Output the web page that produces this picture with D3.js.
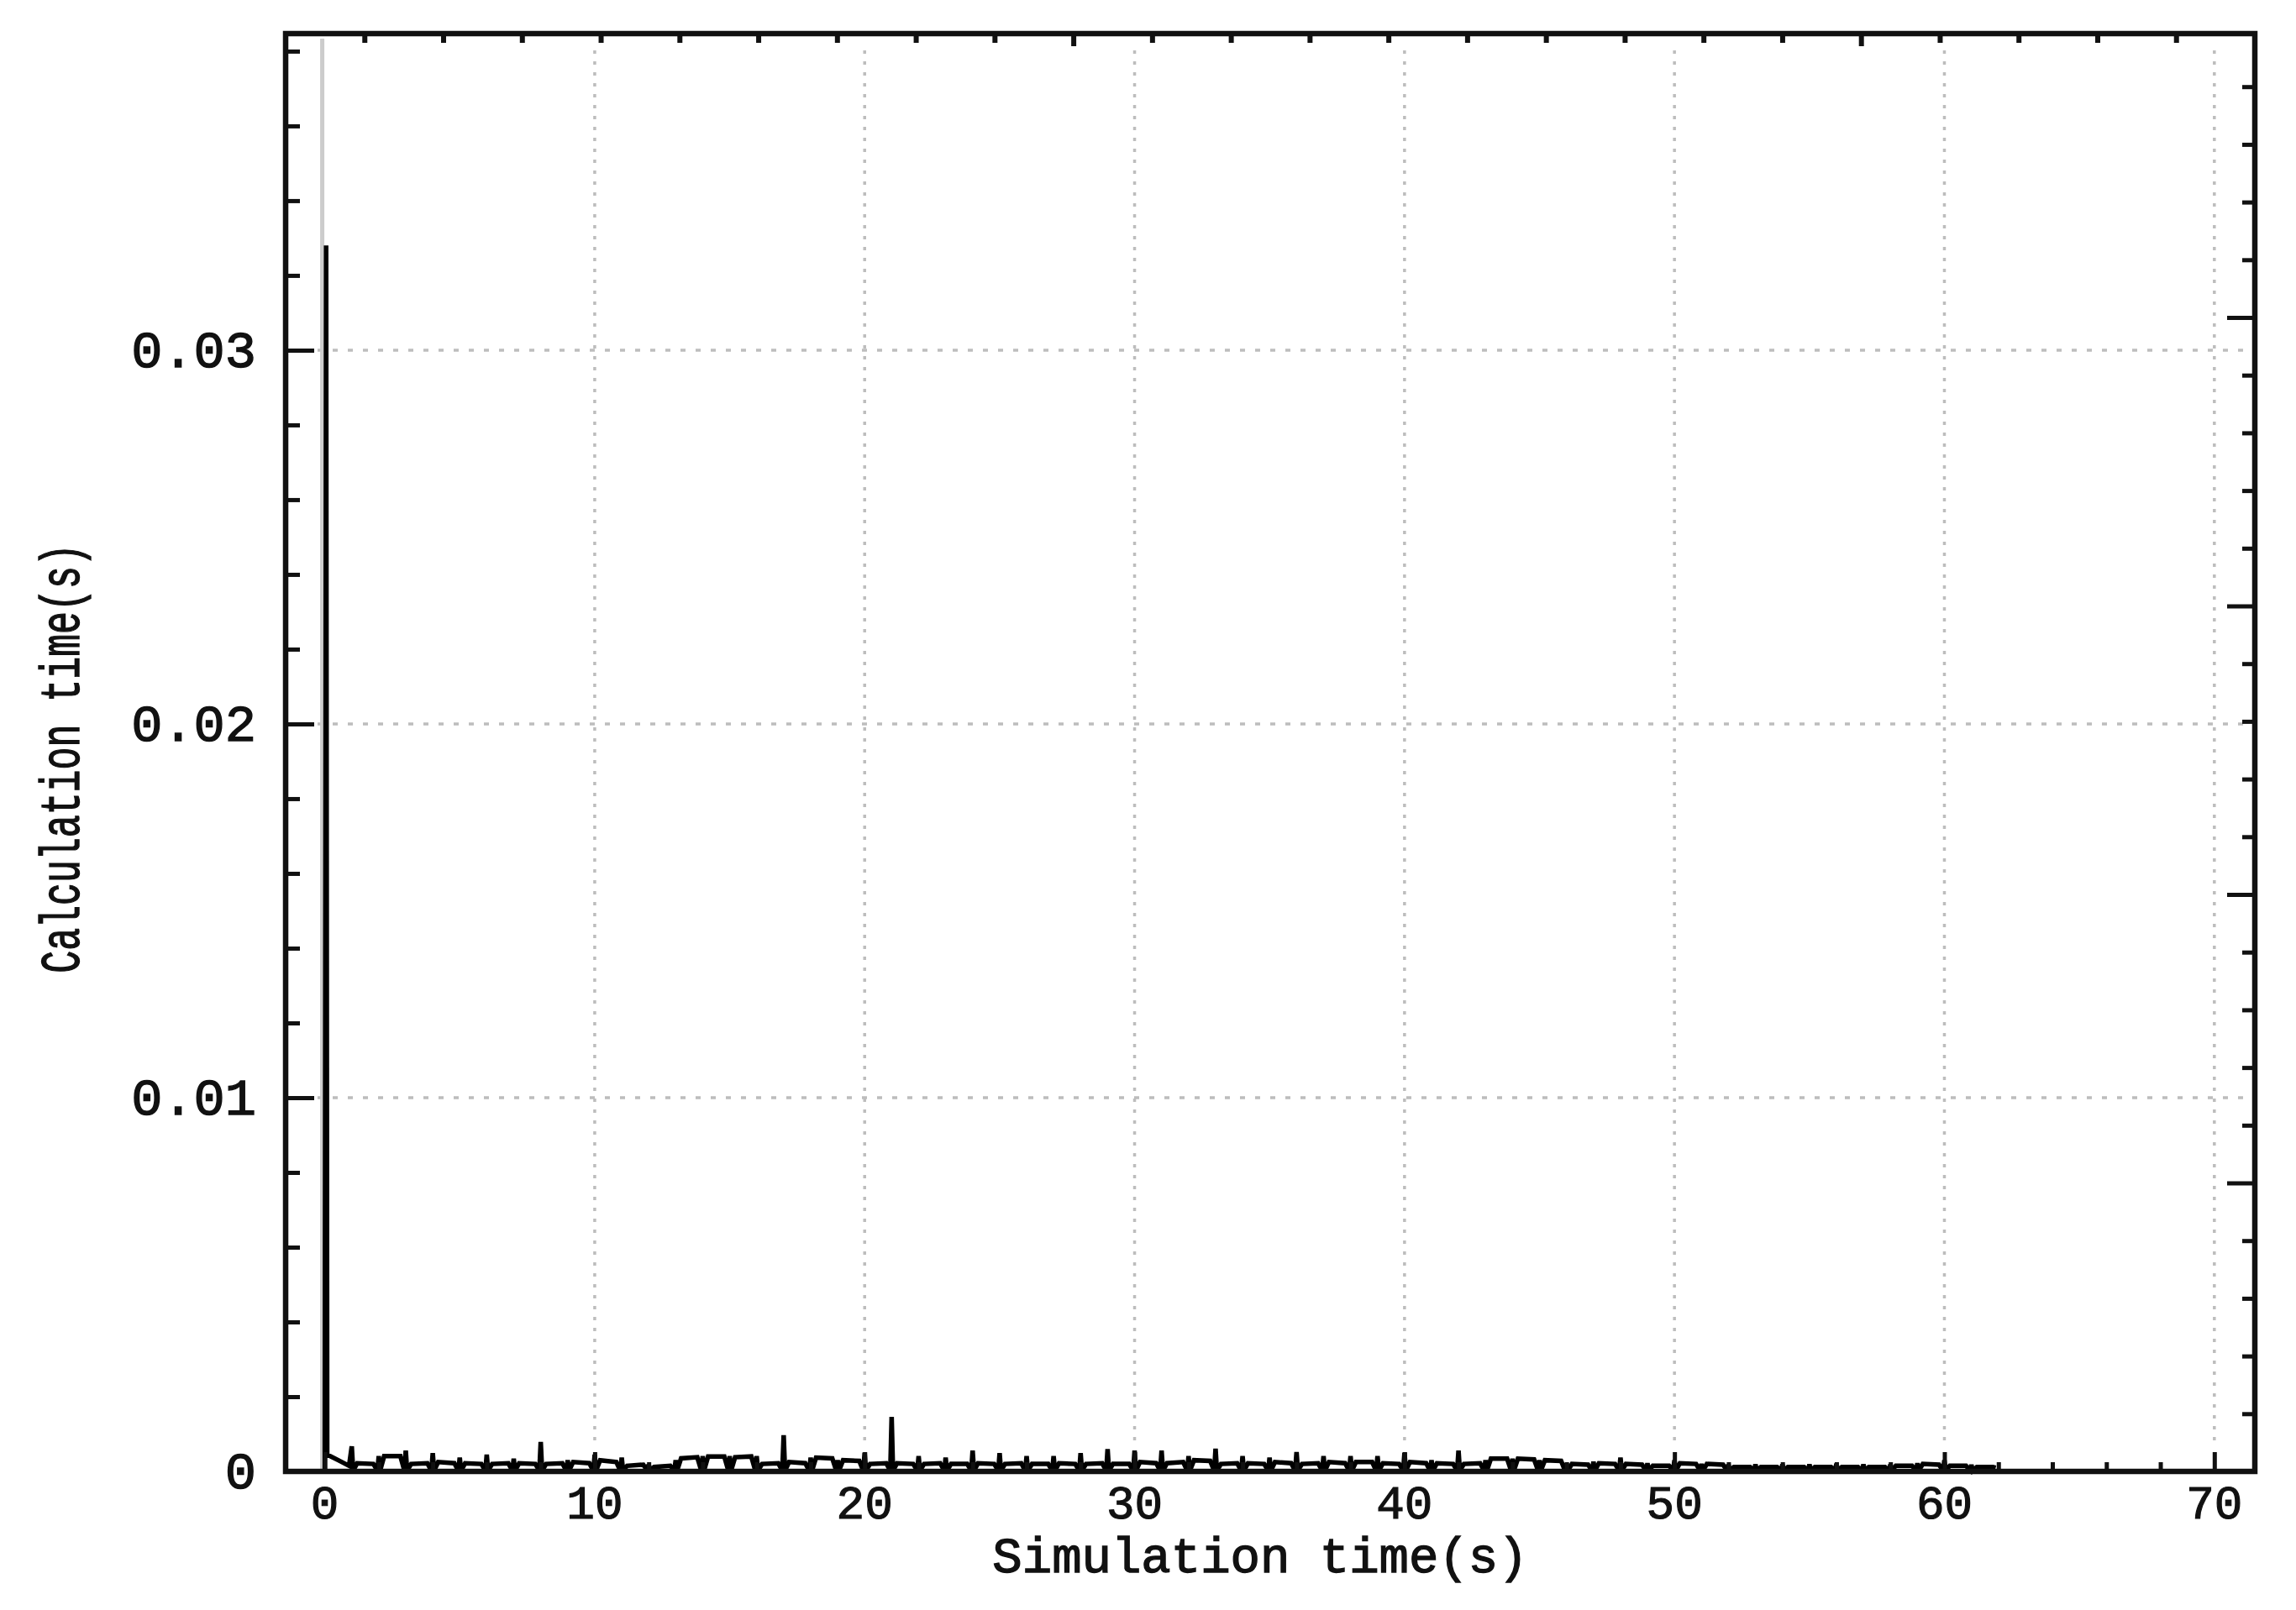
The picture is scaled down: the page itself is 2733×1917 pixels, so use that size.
<!DOCTYPE html>
<html><head><meta charset="utf-8">
<script src="https://cdn.jsdelivr.net/npm/d3@7"></script>
<style>html,body{margin:0;padding:0;background:#fff;}svg{display:block;}</style>
</head><body>
<script>
// ---------------- data ----------------
const xTickValues = [0, 10, 20, 30, 40, 50, 60, 70];
const xTickLabels = ["0", "10", "20", "30", "40", "50", "60", "70"];
const yTickValues = [0, 0.01, 0.02, 0.03];
const yTickLabels = ["0", "0.01", "0.02", "0.03"];
const xTitle = "Simulation time(s)";
const yTitle = "Calculation time(s)";

const simTime = [
  0, 0.05, 0.09, 0.5, 0.9,
  1, 1.05, 1.2, 1.8, 1.95,       2, 2.05, 2.2, 2.8, 2.95,       3, 3.05, 3.2, 3.8, 3.95,
  4, 4.05, 4.2, 4.8, 4.95,       5, 5.05, 5.2, 5.8, 5.95,       6, 6.05, 6.2, 6.8, 6.95,
  7, 7.05, 7.2, 7.8, 7.95,       8, 8.05, 8.2, 8.8, 8.95,       9, 9.05, 9.2, 9.8, 9.95,
  10, 10.05, 10.2, 10.8, 10.95,  11, 11.05, 11.2, 11.8, 11.95,  12, 12.05, 12.2, 12.8, 12.95,
  13, 13.05, 13.2, 13.8, 13.95,  14, 14.05, 14.2, 14.8, 14.95,  15, 15.05, 15.2, 15.8, 15.95,
  16, 16.05, 16.2, 16.8, 16.95,  17, 17.05, 17.2, 17.8, 17.95,  18, 18.05, 18.2, 18.8, 18.95,
  19, 19.05, 19.2, 19.8, 19.95,  20, 20.05, 20.2, 20.8, 20.95,  21, 21.05, 21.2, 21.8, 21.95,
  22, 22.05, 22.2, 22.8, 22.95,  23, 23.05, 23.2, 23.8, 23.95,  24, 24.05, 24.2, 24.8, 24.95,
  25, 25.05, 25.2, 25.8, 25.95,  26, 26.05, 26.2, 26.8, 26.95,  27, 27.05, 27.2, 27.8, 27.95,
  28, 28.05, 28.2, 28.8, 28.95,  29, 29.05, 29.2, 29.8, 29.95,  30, 30.05, 30.2, 30.8, 30.95,
  31, 31.05, 31.2, 31.8, 31.95,  32, 32.05, 32.2, 32.8, 32.95,  33, 33.05, 33.2, 33.8, 33.95,
  34, 34.05, 34.2, 34.8, 34.95,  35, 35.05, 35.2, 35.8, 35.95,  36, 36.05, 36.2, 36.8, 36.95,
  37, 37.05, 37.2, 37.8, 37.95,  38, 38.05, 38.2, 38.8, 38.95,  39, 39.05, 39.2, 39.8, 39.95,
  40, 40.05, 40.2, 40.8, 40.95,  41, 41.05, 41.2, 41.8, 41.95,  42, 42.05, 42.2, 42.8, 42.95,
  43, 43.05, 43.2, 43.8, 43.95,  44, 44.05, 44.2, 44.8, 44.95,  45, 45.05, 45.2, 45.8, 45.95,
  46, 46.05, 46.2, 46.8, 46.95,  47, 47.05, 47.2, 47.8, 47.95,  48, 48.05, 48.2, 48.8, 48.95,
  49, 49.05, 49.2, 49.8, 49.95,  50, 50.05, 50.2, 50.8, 50.95,  51, 51.05, 51.2, 51.8, 51.95,
  52, 52.05, 52.2, 52.8, 52.95,  53, 53.05, 53.2, 53.8, 53.95,  54, 54.05, 54.2, 54.8, 54.95,
  55, 55.05, 55.2, 55.8, 55.95,  56, 56.05, 56.2, 56.8, 56.95,  57, 57.05, 57.2, 57.8, 57.95,
  58, 58.05, 58.2, 58.8, 58.95,  59, 59.05, 59.2, 59.8, 59.95,  60, 60.05, 60.2, 60.8, 60.95,
  61, 61.05, 61.2, 61.8, 61.9
];
const calcTime = [
  0, 0.0328, 0.00045, 0.0003, 0.00015,
  0.00067, 0.00002, 0.00022, 0.00020, 0.00002,   0.00041, 0.00002, 0.00041, 0.00041, 0.00002,
  0.00056, 0.00002, 0.00020, 0.00022, 0.00002,   0.00049, 0.00002, 0.00025, 0.00022, 0.00002,
  0.00037, 0.00002, 0.00022, 0.00020, 0.00002,   0.00045, 0.00002, 0.00020, 0.00022, 0.00002,
  0.00034, 0.00002, 0.00022, 0.00020, 0.00002,   0.00079, 0.00002, 0.00020, 0.00022, 0.00002,
  0.00030, 0.00002, 0.00025, 0.00022, 0.00002,   0.00045, 0.00002, 0.00030, 0.00025, 0.00002,
  0.00037, 0.00002, 0.00015, 0.00018, 0.00002,   0.00019, 0.00002, 0.00012, 0.00015, 0.00002,
  0.00030, 0.00002, 0.00035, 0.00038, 0.00002,   0.00041, 0.00002, 0.00040, 0.00040, 0.00002,
  0.00041, 0.00002, 0.00038, 0.00040, 0.00002,   0.00041, 0.00002, 0.00020, 0.00022, 0.00002,
  0.00097, 0.00002, 0.00025, 0.00022, 0.00002,   0.00037, 0.00002, 0.00037, 0.00035, 0.00002,
  0.00030, 0.00002, 0.00030, 0.00028, 0.00002,   0.00050, 0.00002, 0.00020, 0.00022, 0.00002,
  0.00146, 0.00002, 0.00022, 0.00020, 0.00002,   0.00041, 0.00002, 0.00020, 0.00022, 0.00002,
  0.00037, 0.00002, 0.00020, 0.00020, 0.00002,   0.00056, 0.00002, 0.00022, 0.00020, 0.00002,
  0.00049, 0.00002, 0.00020, 0.00022, 0.00002,   0.00041, 0.00002, 0.00020, 0.00020, 0.00002,
  0.00041, 0.00002, 0.00022, 0.00020, 0.00002,   0.00049, 0.00002, 0.00020, 0.00022, 0.00002,
  0.00060, 0.00002, 0.00020, 0.00020, 0.00002,   0.00056, 0.00002, 0.00025, 0.00022, 0.00002,
  0.00056, 0.00002, 0.00022, 0.00025, 0.00002,   0.00041, 0.00002, 0.00030, 0.00028, 0.00002,
  0.00061, 0.00002, 0.00020, 0.00022, 0.00002,   0.00041, 0.00002, 0.00022, 0.00020, 0.00002,
  0.00037, 0.00002, 0.00025, 0.00022, 0.00002,   0.00052, 0.00002, 0.00020, 0.00022, 0.00002,
  0.00041, 0.00002, 0.00025, 0.00022, 0.00002,   0.00041, 0.00002, 0.00025, 0.00025, 0.00002,
  0.00041, 0.00002, 0.00022, 0.00020, 0.00002,   0.00050, 0.00002, 0.00025, 0.00022, 0.00002,
  0.00030, 0.00002, 0.00022, 0.00020, 0.00002,   0.00056, 0.00002, 0.00020, 0.00022, 0.00002,
  0.00030, 0.00002, 0.00034, 0.00034, 0.00002,   0.00034, 0.00002, 0.00034, 0.00032, 0.00002,
  0.00030, 0.00002, 0.00030, 0.00028, 0.00002,   0.00022, 0.00002, 0.00020, 0.00018, 0.00002,
  0.00026, 0.00002, 0.00022, 0.00020, 0.00002,   0.00037, 0.00002, 0.00020, 0.00018, 0.00002,
  0.00022, 0.00002, 0.00015, 0.00015, 0.00002,   0.00030, 0.00002, 0.00022, 0.00020, 0.00002,
  0.00020, 0.00002, 0.00020, 0.00018, 0.00002,   0.00019, 0.00002, 0.00012, 0.00012, 0.00002,
  0.00019, 0.00002, 0.00012, 0.00012, 0.00002,   0.00019, 0.00002, 0.00012, 0.00012, 0.00002,
  0.00019, 0.00002, 0.00012, 0.00012, 0.00002,   0.00021, 0.00002, 0.00012, 0.00012, 0.00002,
  0.00019, 0.00002, 0.00012, 0.00012, 0.00002,   0.00019, 0.00002, 0.00015, 0.00015, 0.00002,
  0.00022, 0.00002, 0.00020, 0.00018, 0.00002,   0.00030, 0.00002, 0.00015, 0.00015, 0.00002,
  0.00018, 0.00002, 0.00012, 0.00012, 0.0001
];

// ---------------- layout ----------------
const W = 2733, H = 1917;
const L = 340, R = 2684, T = 40, B = 1752;

const svg = d3.select("body").append("svg").attr("width", W).attr("height", H);
svg.append("rect").attr("width", W).attr("height", H).attr("fill", "#fff");

const x = d3.scaleLinear().domain([-1.45, 71.5]).range([L, R]);
const y = d3.scaleLinear().domain([0, 0.03847]).range([B, T]);
const xTop = d3.scaleLinear().domain([0, 25]).range([L, R]);
const yRight = d3.scaleLinear().domain([0, 4.984]).range([B, T]);

// grid
const g = svg.append("g");
g.selectAll("line.vg").data(xTickValues.filter(v => v > 0)).enter().append("line")
  .attr("x1", d => x(d)).attr("x2", d => x(d)).attr("y1", 60).attr("y2", 1716)
  .attr("stroke", "#bdbdbd").attr("stroke-width", 3.5).attr("stroke-dasharray", "4,9");
g.selectAll("line.hg").data(yTickValues.filter(v => v > 0)).enter().append("line")
  .attr("x1", 378).attr("x2", 2674).attr("y1", d => y(d)).attr("y2", d => y(d))
  .attr("stroke", "#bdbdbd").attr("stroke-width", 3.5).attr("stroke-dasharray", "6,12");
g.append("line").attr("x1", x(0) - 3).attr("x2", x(0) - 3).attr("y1", T + 6).attr("y2", B)
  .attr("stroke", "#cccccc").attr("stroke-width", 5);

// data line
const line = d3.line().x((d, i) => x(simTime[i])).y((d, i) => y(calcTime[i]));
svg.append("path").datum(calcTime).attr("d", line)
  .attr("fill", "none").attr("stroke", "#000").attr("stroke-width", 5.5)
  .attr("stroke-linejoin", "miter").attr("stroke-miterlimit", 2);

// axes ticks
function styleAxis(sel, w) {
  sel.select(".domain").remove();
  sel.selectAll(".tick line").attr("stroke", "#111").attr("stroke-width", w);
  sel.selectAll(".tick text").remove();
}
const xMinor = d3.range(0, 71, 2).filter(v => v % 10 !== 0);
svg.append("g").attr("transform", `translate(0,${B})`)
  .call(d3.axisBottom(x).tickValues(xMinor).tickSize(-11)).call(s => styleAxis(s, 5));
svg.append("g").attr("transform", `translate(0,${B})`)
  .call(d3.axisBottom(x).tickValues(xTickValues).tickSize(-23)).call(s => styleAxis(s, 5));

const yMinor = d3.range(0.002, 0.0385, 0.002).filter(v => Math.abs(v * 100 - Math.round(v * 100)) > 1e-6);
svg.append("g").attr("transform", `translate(${L},0)`)
  .call(d3.axisLeft(y).tickValues(yMinor).tickSize(-17)).call(s => styleAxis(s, 5));
svg.append("g").attr("transform", `translate(${L},0)`)
  .call(d3.axisLeft(y).tickValues(yTickValues).tickSize(-34)).call(s => styleAxis(s, 5));

const topMinor = d3.range(1, 25, 1).filter(v => v % 10 !== 0);
svg.append("g").attr("transform", `translate(0,${T})`)
  .call(d3.axisTop(xTop).tickValues(topMinor).tickSize(-11)).call(s => styleAxis(s, 6));
svg.append("g").attr("transform", `translate(0,${T})`)
  .call(d3.axisTop(xTop).tickValues([10, 20]).tickSize(-15)).call(s => styleAxis(s, 6));

const rMinor = d3.range(0.2, 4.99, 0.2).filter(v => Math.abs(v - Math.round(v)) > 1e-6);
svg.append("g").attr("transform", `translate(${R},0)`)
  .call(d3.axisRight(yRight).tickValues(rMinor).tickSize(-15)).call(s => styleAxis(s, 5));
svg.append("g").attr("transform", `translate(${R},0)`)
  .call(d3.axisRight(yRight).tickValues([1, 2, 3, 4]).tickSize(-33)).call(s => styleAxis(s, 5));

// frame
svg.append("rect").attr("x", L).attr("y", T).attr("width", R - L).attr("height", B - T)
  .attr("fill", "none").attr("stroke", "#111").attr("stroke-width", 6.5);

// labels
const font = "'Liberation Mono', 'DejaVu Sans Mono', monospace";
svg.selectAll("text.xt").data(xTickValues).enter().append("text")
  .attr("x", d => x(d)).attr("y", 1808).attr("text-anchor", "middle")
  .attr("font-family", font).attr("font-size", 56).attr("fill", "#111")
  .attr("stroke", "#111").attr("stroke-width", 1.2)
  .text((d, i) => xTickLabels[i]);
svg.selectAll("text.yt").data(yTickValues).enter().append("text")
  .attr("x", 305).attr("y", d => y(d) + 20).attr("text-anchor", "end")
  .attr("font-family", font).attr("font-size", 62).attr("fill", "#111")
  .attr("stroke", "#111").attr("stroke-width", 1.4)
  .text((d, i) => yTickLabels[i]);
svg.append("text").attr("x", 1500).attr("y", 1872).attr("text-anchor", "middle")
  .attr("font-family", font).attr("font-size", 59).attr("fill", "#111")
  .attr("stroke", "#111").attr("stroke-width", 1.4).text(xTitle);
svg.append("text").attr("transform", "translate(94,903) rotate(-90) scale(0.68,1)")
  .attr("text-anchor", "middle")
  .attr("font-family", font).attr("font-size", 66).attr("fill", "#111")
  .attr("stroke", "#111").attr("stroke-width", 1.4).text(yTitle);
</script>
</body></html>
